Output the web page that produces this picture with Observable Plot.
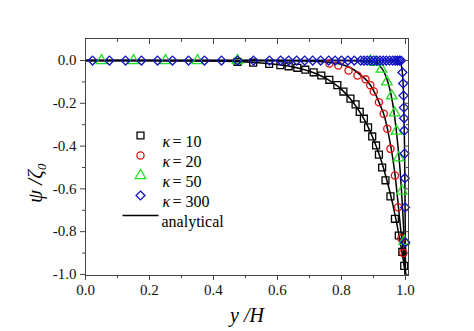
<!DOCTYPE html>
<html>
<head>
<meta charset="utf-8">
<script src="https://cdn.jsdelivr.net/npm/d3@7"></script>
<script src="https://cdn.jsdelivr.net/npm/@observablehq/plot@0.6"></script>
<style>
  html, body { margin: 0; padding: 0; background: white; }
  #chart { width: 474px; height: 331px; }
</style>
</head>
<body>
<div id="chart"></div>
<script>
// ---- tick values ----
const xMajor = [0, 0.2, 0.4, 0.6, 0.8, 1.0];
const xMinor = [0.1, 0.3, 0.5, 0.7, 0.9];
const yMajor = [0, -0.2, -0.4, -0.6, -0.8, -1.0];
const yMinor = [-0.1, -0.3, -0.5, -0.7, -0.9];

// ---- series labels ----
const seriesNames = ["10", "20", "50", "300"];
const lineName = "analytical";

// ---- kappa = 10 (squares) ----
const sqX = [0.475, 0.524, 0.574, 0.609, 0.635, 0.662, 0.687, 0.713, 0.737, 0.762, 0.787, 0.806, 0.828, 0.844, 0.857, 0.870, 0.883, 0.896, 0.908, 0.917, 0.927, 0.9375, 0.953, 0.967, 0.979, 0.990, 0.996];
const sqY = [-0.006, -0.010, -0.016, -0.022, -0.027, -0.034, -0.043, -0.055, -0.070, -0.090, -0.115, -0.145, -0.178, -0.205, -0.240, -0.272, -0.312, -0.355, -0.397, -0.440, -0.500, -0.560, -0.635, -0.740, -0.818, -0.895, -0.960];

// ---- kappa = 20 (circles) ----
const ciX = [0.7625, 0.79, 0.822, 0.85, 0.875, 0.89, 0.901, 0.917, 0.932, 0.943, 0.953, 0.967, 0.977, 0.987, 0.993];
const ciY = [-0.014, -0.023, -0.047, -0.070, -0.088, -0.115, -0.145, -0.195, -0.249, -0.319, -0.413, -0.537, -0.686, -0.832, -0.900];

// ---- kappa = 50 (triangles) ----
const trX = [0.05, 0.15, 0.25, 0.35, 0.475, 0.89, 0.906, 0.925, 0.942, 0.957, 0.966, 0.972, 0.979, 0.989, 0.996];
const trY = [0, 0, 0, 0, 0, -0.003, -0.008, -0.040, -0.100, -0.165, -0.245, -0.330, -0.455, -0.610, -0.845];

// ---- kappa = 300 (diamonds) ----
const diX = [0.022, 0.075, 0.125, 0.175, 0.225, 0.272, 0.322, 0.372, 0.425, 0.475, 0.525, 0.575, 0.61, 0.635, 0.66, 0.685, 0.71, 0.735, 0.76, 0.78, 0.80, 0.82, 0.84, 0.86, 0.87, 0.88, 0.89, 0.90, 0.91, 0.92, 0.93, 0.94, 0.95, 0.96, 0.968, 0.975, 0.981, 0.986, 0.9904, 0.9925, 0.994, 0.995, 0.9956, 0.9963, 0.9972, 0.998, 0.9988, 0.9995];
const diY = [0, 0, 0, 0, 0, 0, 0, 0, 0, 0, 0, 0, 0, 0, 0, 0, 0, 0, 0, 0, 0, 0, 0, 0, 0, 0, 0, 0, 0, 0, 0, 0, 0, 0, 0, 0, 0, 0, -0.056, -0.107, -0.164, -0.220, -0.270, -0.327, -0.435, -0.550, -0.687, -0.850];

// ---- analytical curves ----
const a10X = [0, 0.1, 0.2, 0.3, 0.4, 0.5, 0.55, 0.6, 0.65, 0.7, 0.75, 0.8, 0.83, 0.86, 0.88, 0.9, 0.92, 0.94, 0.96, 0.97, 0.98, 0.99, 1.0];
const a10Y = [0, -0.0001, -0.0003, -0.0009, -0.0025, -0.0067, -0.011, -0.018, -0.030, -0.050, -0.082, -0.135, -0.183, -0.247, -0.301, -0.368, -0.449, -0.549, -0.670, -0.741, -0.819, -0.905, -1.0];
const a20X = [0, 0.5, 0.6, 0.7, 0.75, 0.8, 0.83, 0.86, 0.88, 0.9, 0.92, 0.935, 0.945, 0.955, 0.967, 0.977, 0.985, 0.992, 1.0];
const a20Y = [0, -0.0001, -0.0003, -0.0025, -0.0067, -0.018, -0.035, -0.068, -0.095, -0.14, -0.205, -0.265, -0.33, -0.41, -0.53, -0.67, -0.79, -0.88, -1.0];
const a50X = [0, 0.8, 0.85, 0.9, 0.92, 0.935, 0.945, 0.955, 0.963, 0.97, 0.977, 0.983, 0.988, 0.993, 0.997, 1.0];
const a50Y = [0, 0, -0.0006, -0.006, -0.025, -0.06, -0.10, -0.16, -0.23, -0.31, -0.41, -0.51, -0.62, -0.75, -0.88, -1.0];
const a300X = [0, 0.98, 0.988, 0.991, 0.993, 0.995, 0.9965, 0.9975, 0.9985, 0.9993, 1.0];
const a300Y = [0, 0, -0.03, -0.07, -0.12, -0.22, -0.35, -0.47, -0.63, -0.80, -1.0];

const zip = (xs, ys) => xs.map((x, i) => ({x, y: ys[i]}));

const series = [
  {data: zip(sqX, sqY), symbol: "square", color: "#000000", r: 3.9},
  {data: zip(ciX, ciY), symbol: "circle", color: "#e01010", r: 3.6},
  {data: zip(trX, trY), symbol: "triangle", color: "#22dd22", r: 3.9},
  {data: zip(diX, diY), symbol: "diamond2", color: "#1010c8", r: 4.0}
];
const curves = [zip(a10X, a10Y), zip(a20X, a20Y), zip(a50X, a50Y), zip(a300X, a300Y)];

const FF = "'Liberation Serif', 'DejaVu Serif', serif";
const AX = "#444";

const marks = [];
for (const c of curves) {
  marks.push(Plot.line(c, {x: "x", y: "y", stroke: "black", strokeWidth: 1.5, curve: "monotone-x"}));
}
for (const s of series) {
  marks.push(Plot.dot(s.data, {x: "x", y: "y", symbol: s.symbol, r: s.r, stroke: s.color, strokeWidth: 1.3, fill: "none"}));
}
marks.push(Plot.frame({stroke: AX, strokeWidth: 1}));
// bottom axis
marks.push(Plot.axisX(xMajor, {anchor: "bottom", label: null, tickSize: 5, tickPadding: 4, tickFormat: d => d.toFixed(1), fontSize: 15, fontFamily: FF, fill: "#111", stroke: AX}));
marks.push(Plot.axisX(xMinor, {anchor: "bottom", label: null, tickSize: 3, tickFormat: () => "", stroke: AX}));
// top axis (inward ticks)
marks.push(Plot.axisX(xMajor, {anchor: "top", label: null, tickSize: -5, tickFormat: () => "", stroke: AX}));
marks.push(Plot.axisX(xMinor, {anchor: "top", label: null, tickSize: -3, tickFormat: () => "", stroke: AX}));
// left axis
marks.push(Plot.axisY(yMajor, {anchor: "left", label: null, tickSize: 5, tickPadding: 4, tickFormat: d => d.toFixed(1), fontSize: 15, fontFamily: FF, fill: "#111", stroke: AX}));
marks.push(Plot.axisY(yMinor, {anchor: "left", label: null, tickSize: 3, tickFormat: () => "", stroke: AX}));
// right axis (inward)
marks.push(Plot.axisY(yMajor, {anchor: "right", label: null, tickSize: -5, tickFormat: () => "", stroke: AX}));
marks.push(Plot.axisY(yMinor, {anchor: "right", label: null, tickSize: -3, tickFormat: () => "", stroke: AX}));

// axis titles
marks.push(Plot.text(["y /H"], {frameAnchor: "bottom", dy: 40, text: d => d, fontSize: 20, fontStyle: "italic", fontFamily: FF, lineAnchor: "middle", fill: "black"}));
marks.push(Plot.text(["\u03C8 /\u03B6\u2080"], {frameAnchor: "left", dx: -50, dy: 46, rotate: -90, text: d => d, fontSize: 21, fontStyle: "italic", fontFamily: FF, lineAnchor: "middle", fill: "black"}));

// legend
const legX = 55, legY0 = 97, legStep = 20;
series.forEach((s, i) => {
  marks.push(Plot.dot([0], {frameAnchor: "top-left", dx: legX, dy: legY0 + legStep * i, symbol: s.symbol, r: s.r, stroke: s.color, strokeWidth: 1.3, fill: "none"}));
  marks.push(Plot.text(["\u03BA"], {frameAnchor: "top-left", dx: legX + 22, dy: legY0 + legStep * i, text: d => d, textAnchor: "start", fontSize: 16, fontStyle: "italic", fontFamily: FF, fill: "black"}));
  marks.push(Plot.text([seriesNames[i]], {frameAnchor: "top-left", dx: legX + 32, dy: legY0 + legStep * i, text: d => "= " + d, textAnchor: "start", fontSize: 16, fontFamily: FF, fill: "black"}));
});
const lineSym = {draw(ctx) { ctx.moveTo(-18, 0); ctx.lineTo(18, 0); }};
marks.push(Plot.dot([0], {frameAnchor: "top-left", dx: legX, dy: legY0 + legStep * 4, symbol: lineSym, stroke: "black", strokeWidth: 1.5, fill: "none"}));
marks.push(Plot.text([lineName], {frameAnchor: "top-left", dx: legX + 21, dy: legY0 + legStep * 4, text: d => d, textAnchor: "start", fontSize: 16, fontFamily: FF, fill: "black"}));

const chart = Plot.plot({
  width: 474,
  height: 331,
  marginLeft: 85,
  marginRight: 66,
  marginTop: 38,
  marginBottom: 56,
  x: {domain: [0, 1.0094], axis: null},
  y: {domain: [-1.005, 0.103], axis: null},
  style: {fontFamily: FF, fontSize: "14px", color: "#222", background: "white", overflow: "visible"},
  marks
});
document.getElementById("chart").appendChild(chart);
</script>
</body>
</html>
